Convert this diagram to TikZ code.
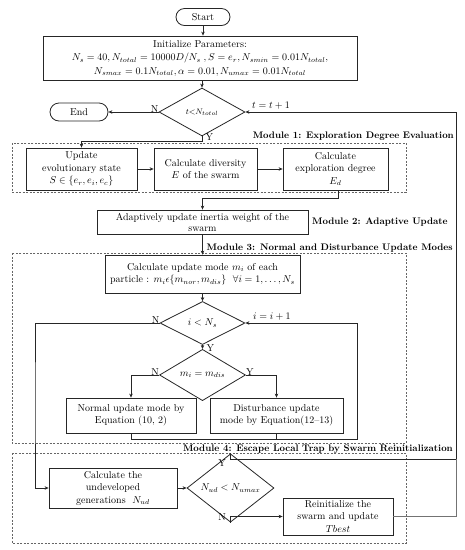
\documentclass[tikz,border=0pt]{standalone}
\usetikzlibrary{shapes.geometric,shapes.misc,arrows.meta}
\begin{document}
\begin{tikzpicture}[x=1pt,y=-1pt,
  font=\fontsize{10}{12.5}\selectfont,
  box/.style={draw=black!85, line width=0.8pt, inner sep=1pt, align=center},
  term/.style={draw=black!85, line width=0.8pt, rounded rectangle, inner sep=0pt},
  dia/.style={draw=black!85, line width=0.8pt, diamond, inner sep=0pt},
  flow/.style={draw=black!85, line width=0.6pt},
  arr/.style={flow, -{Stealth[length=4pt,width=3.5pt]}},
  modbox/.style={draw=black!60, dash pattern=on 2pt off 1.5pt, line width=0.5pt},
  modlbl/.style={font=\fontsize{9.5}{11}\selectfont\bfseries, inner sep=0pt},
  yn/.style={inner sep=0pt},
]
\useasboundingbox (0,0) rectangle (465,550);
% module frames
\draw[modbox] (12,143) rectangle (406,192);
\draw[modbox] (12,253) rectangle (406,443);
\draw[modbox] (12,453) rectangle (406,543);

\node[term, minimum width=54pt, minimum height=17pt] (start) at (203,17) {Start};
\node[box, minimum width=314pt, minimum height=44pt] (init) at (200,58) {Initialize Parameters:\\[1pt] $N_s = 40, N_{total} = 10000D/N_s\;, S = e_r, N_{smin} = 0.01N_{total},$\\[1pt] $N_{smax} = 0.1N_{total}, \alpha = 0.01, N_{umax} = 0.01N_{total}$};
\node[dia, minimum width=86pt, minimum height=48pt] (d1) at (202,112) {\fontsize{8}{9}\selectfont $t$<$N_{totol}$};
\node[term, minimum width=58pt, minimum height=18pt] (end) at (79,112) {End};
\draw[arr] (start.south) -- (start.south |- init.north);
\draw[arr] (init.south -| d1.north) -- (d1.north);
\draw[arr] (d1.west) -- (end.east);
\node[yn, anchor=south east] (n1) at ([yshift=-1pt]d1.west) {N};
\node[yn, anchor=south west] (tinc) at (252,110) {$t = t + 1$};
\node[yn, anchor=west] (y1) at ([xshift=3.5pt,yshift=-1pt]d1.south) {Y};
\node[modlbl, anchor=base east] (m1) at (454,138) {Module 1: Exploration Degree Evaluation};

\node[box, minimum width=111pt, minimum height=42pt] (upd) at (81.5,169) {Update\\evolutionary state\\$S \in \{e_r, e_i, e_c\}$};
\node[box, minimum width=103pt, minimum height=42pt] (div) at (205.5,169) {Calculate diversity\\$E$ of the swarm};
\node[box, minimum width=105pt, minimum height=42pt] (expl) at (335.5,169) {Calculate\\exploration degree\\$E_d$};
\draw[arr] (d1.south) -- ++(0,5) -| (upd.north);
\draw[arr] (upd) -- (div);
\draw[arr] (div) -- (expl);

\node[box, minimum width=211pt, minimum height=24pt, inner sep=0pt, font=\fontsize{10}{11}\selectfont] (adapt) at (202.5,222) {Adaptively update inertia weight of the\\swarm};
\draw[arr] ([xshift=2.5pt]expl.south) -- ++(0,8) -| (adapt.north);
\node[modlbl, anchor=base west] (m2) at (312,224) {Module 2: Adaptive Update};
\node[modlbl, anchor=base east] (m3) at (453,250.5) {Module 3: Normal and Disturbance Update Modes};

\node[box, minimum width=195pt, minimum height=38pt] (mode) at (202.5,274) {Calculate update mode $m_i$ of each\\particle : $m_i \epsilon \{m_{nor}, m_{dis}\}$\ \ $\forall i = 1, \ldots, N_s$};
\draw[arr] (adapt.south) -- (mode.north);
\node[dia, minimum width=85pt, minimum height=43pt] (d2) at (202.5,323) {$i < N_s$};
\draw[arr] (mode) -- (d2);
\node[yn, anchor=south east] (n2) at ([yshift=-1pt]d2.west) {N};
\node[yn, anchor=south west] (iinc) at (253,321) {$i = i + 1$};

\node[dia, minimum width=86pt, minimum height=44pt] (d3) at (202.5,375) {$m_i = m_{dis}$};
\draw[arr] (d2) -- (d3);
\node[yn, anchor=west] (y2) at ([xshift=4pt,yshift=-3pt]d2.south) {Y};
\node[box, minimum width=130pt, minimum height=35pt] (normal) at (131,415.5) {Normal update mode by\\Equation (10, 2)};
\node[box, minimum width=133pt, minimum height=35pt] (dist) at (276.5,415.5) {Disturbance update\\mode by Equation(12--13)};
\draw[arr] (d3.west) -| (normal.north);
\draw[arr] (d3.east) -| (dist.north);
\node[yn, anchor=south east] (n3) at ([yshift=-1pt]d3.west) {N};
\node[yn, anchor=south west] (y3) at ([yshift=-1pt]d3.east) {Y};
\coordinate (rj) at (357,439);
\draw[arr] (normal.south) |- (rj) |- (d2.east);
\draw[flow] (dist.south) -- (dist.south |- rj);

\node[modlbl, anchor=base east] (m4) at (453,451.5) {Module 4: Escape Local Trap by Swarm Reinitialization};
\node[box, minimum width=128pt, minimum height=40pt] (undev) at (113,488) {Calculate the\\undeveloped\\generations\ \ $N_{ud}$};
\coordinate (lc) at (35,400);
\draw[arr] (d2.west) -| (lc) |- (undev.west);
\node[dia, minimum width=87pt, minimum height=43pt] (d4) at (230.5,488) {$N_{ud} < N_{umax}$};
\draw[arr] (undev) -- (d4);
\node[box, minimum width=110pt, minimum height=37pt] (reinit) at (338,516.5) {Reinitialize the\\swarm and update\\$Tbest$};
\coordinate (rt) at (456,459);
\draw[arr] (d4.north) |- (rt) |- (d1.east);
\draw[arr] (d4.south) |- (reinit.west);
\node[yn, anchor=east] (y4) at (226,463) {Y};
\node[yn, anchor=east] (n4) at (226,517) {N};
\draw[flow, draw=black!55] (reinit.east) -| (rt);
\end{tikzpicture}
\end{document}
